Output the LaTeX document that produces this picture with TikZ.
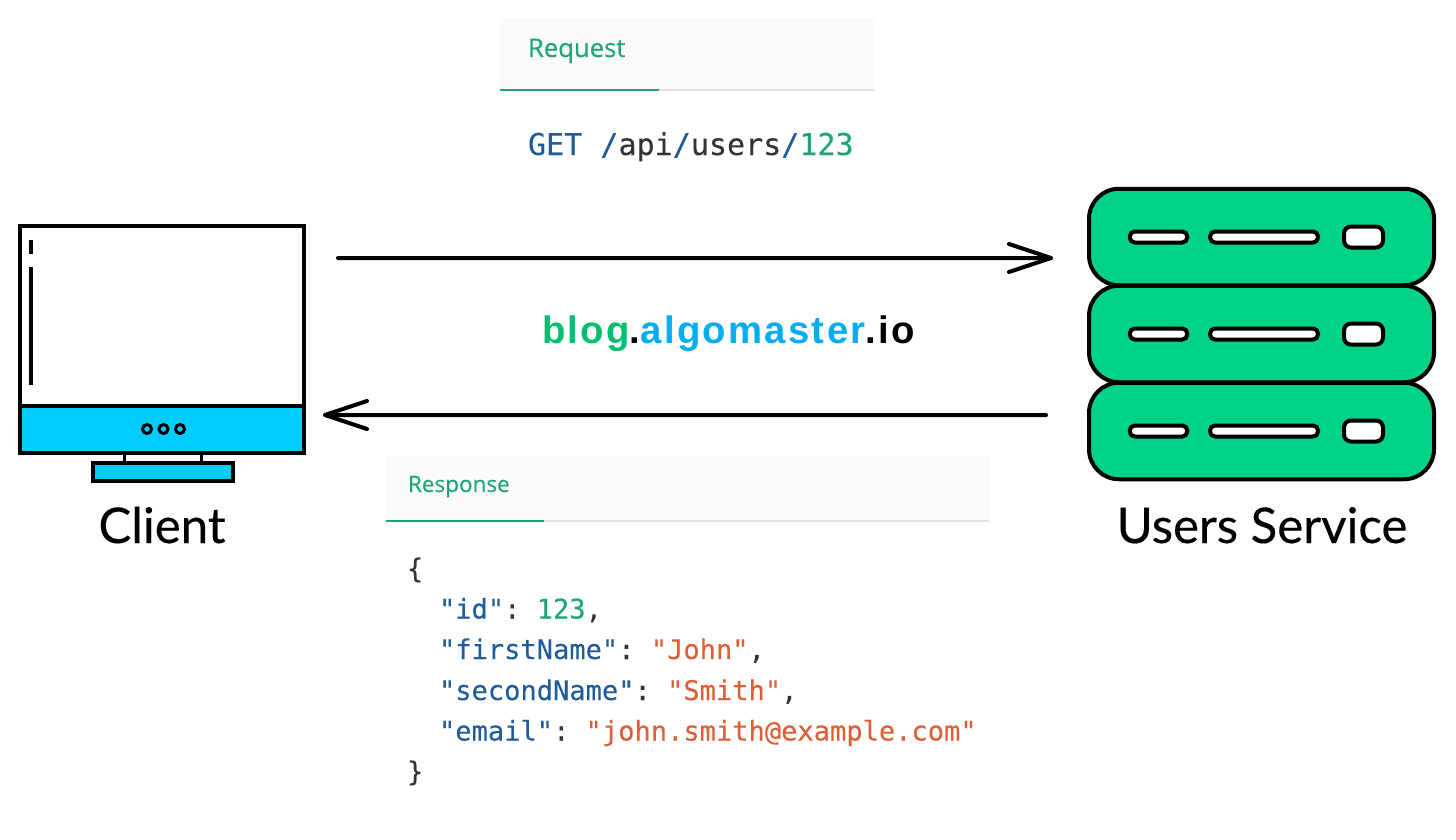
\documentclass[tikz,border=0pt]{standalone}
\usepackage{fontspec}
\setmainfont{Lato}
\newfontfamily\capfont[FakeBold=0.3]{Lato}
\newfontfamily\codefont[FakeBold=0.15]{DejaVu Sans Mono}
\newfontfamily\tabfont[FakeBold=0.2]{Open Sans}
\newfontfamily\brandfont[LetterSpace=6]{Liberation Sans}
\definecolor{clientblue}{HTML}{00CCFF}
\definecolor{rackgreen}{HTML}{00D287}
\definecolor{tabgreen}{HTML}{1FA37C}
\definecolor{tabgray}{HTML}{E2E2E2}
\definecolor{tabfill}{HTML}{FAFAFA}
\definecolor{keyblue}{HTML}{1F5C99}
\definecolor{strorange}{HTML}{DD5F35}
\definecolor{codegray}{HTML}{333333}
\definecolor{brandgreen}{HTML}{00C070}
\definecolor{brandblue}{HTML}{00AEEF}
\newcommand{\ckey}[1]{\textcolor{keyblue}{#1}}
\newcommand{\cstr}[1]{\textcolor{strorange}{#1}}
\newcommand{\cnum}[1]{\textcolor{tabgreen}{#1}}
\tikzset{
	every node/.style={outer sep=0},
	outline/.style={draw=black, line width=0.04cm, inner sep=0},
	tabpanel/.style={fill=tabfill, inner sep=0, anchor=north west},
	tablabel/.style={anchor=base west, inner sep=0, text=tabgreen},
	codeline/.style={anchor=base west, inner sep=0, text=codegray, font=\codefont\frenchspacing\fontsize{7.7}{9}\selectfont},
	caption/.style={anchor=base, inner sep=0, font=\capfont\fontsize{14}{16}\selectfont},
	slot/.style={outline, fill=white, rounded corners=0.05cm, minimum height=0.11cm},
	flowarrow/.style={line width=0.04cm, line cap=round, line join=round},
}
\begin{document}
\begin{tikzpicture}
	%%%%% START %%%%%
	\useasboundingbox (0, 0) rectangle (14.56, 8.39);

	\node[tabpanel, minimum width=3.75cm, minimum height=0.72cm] (reqpanel) at (5.00, 8.21) {};
	\draw[tabgray, line width=0.02cm] (reqpanel.south west) -- (reqpanel.south east);
	\draw[tabgreen, line width=0.025cm] (reqpanel.south west) -- ++(1.59, 0);
	\node[tablabel, font=\tabfont\fontsize{7.3}{9}\selectfont] (reqlabel) at (5.28, 7.82) {Request};
	\node[codeline, font=\codefont\fontsize{8.55}{10}\selectfont] (reqline) at (5.28, 6.84) {\ckey{GET /}api\ckey{/}users\ckey{/}\cnum{123}};

	% monitor
	\node[outline, line width=0.03cm, fill=white, minimum width=0.77cm, minimum height=0.17cm, anchor=north] (neck) at (1.625, 3.93) {};
	\node[outline, fill=white, minimum width=2.84cm, minimum height=1.80cm, anchor=north west] (screen) at (0.195, 6.13) {};
	\node[outline, fill=clientblue, minimum width=2.84cm, minimum height=0.47cm, anchor=north] (bezel) at (screen.south) {};
	\draw[line width=0.035cm] (0.31, 5.99) -- (0.31, 5.85);
	\draw[line width=0.035cm] (0.31, 5.72) -- (0.31, 4.54);
	\foreach \dotx/\dotname in {1.47/a, 1.635/b, 1.80/c}
		\node[outline, fill=clientblue, line width=0.03cm, circle, minimum size=0.09cm] (dot\dotname) at (\dotx, 4.10) {};
	\node[outline, fill=clientblue, minimum width=1.40cm, minimum height=0.18cm, anchor=north] (base) at (1.63, 3.76) {};
	\node[caption] (client) at (1.62, 2.96) {Client};

	% server
	\foreach \racky/\rackname in {6.02/one, 5.05/two, 4.08/three} {
		\node[outline, fill=rackgreen, rounded corners=0.30cm, minimum width=3.45cm, minimum height=0.965cm] (rack\rackname) at (12.615, \racky) {};
		\node[slot, minimum width=0.575cm] (short\rackname) at (11.585, \racky) {};
		\node[slot, minimum width=1.08cm] (long\rackname) at (12.64, \racky) {};
		\node[outline, fill=white, rounded corners=0.07cm, minimum width=0.39cm, minimum height=0.21cm] (led\rackname) at (13.635, \racky) {};
	}
	\node[caption] (users) at (12.62, 2.96) {Users Service};

	% arrows
	\coordinate (reqfrom) at ([shift={(0.345, -0.32)}]screen.north east);
	\coordinate (reqto) at ([shift={(-0.38, -0.21)}]rackone.west);
	\coordinate (resfrom) at ([shift={(-0.43, 0.16)}]rackthree.west);
	\coordinate (resto) at ([shift={(0.215, -0.09)}]screen.south east);
	\draw[flowarrow] (reqfrom) -- (reqto);
	\draw[flowarrow] ([shift={(-0.42, 0.14)}]reqto) -- (reqto) -- ([shift={(-0.42, -0.14)}]reqto);
	\draw[flowarrow] (resfrom) -- (resto);
	\draw[flowarrow] ([shift={(0.42, 0.14)}]resto) -- (resto) -- ([shift={(0.42, -0.14)}]resto);

	\node[anchor=base, inner sep=0, font=\brandfont\bfseries\fontsize{10.9}{12}\selectfont] (brand) at (7.285, 4.96) {\textcolor{brandgreen}{blog}.\textcolor{brandblue}{algomaster}.io};

	\node[tabpanel, minimum width=6.03cm, minimum height=0.65cm] (respanel) at (3.86, 3.83) {};
	\draw[tabgray, line width=0.02cm] (respanel.south west) -- (respanel.south east);
	\draw[tabgreen, line width=0.025cm] (respanel.south west) -- ++(1.58, 0);
	\node[tablabel, font=\tabfont\fontsize{6.4}{8}\selectfont] (reslabel) at (4.08, 3.47) {Response};

	\node[codeline] (open) at (4.07, 2.61) {\{};
	\node[codeline] (idline) at (4.39, 2.205) {\ckey{"id"}: \cnum{123},};
	\node[codeline] (firstline) at (4.39, 1.80) {\ckey{"firstName"}: \cstr{"John"},};
	\node[codeline] (secondline) at (4.39, 1.39) {\ckey{"secondName"}: \cstr{"Smith"},};
	\node[codeline] (mailline) at (4.39, 0.985) {\ckey{"email"}: \cstr{"john.smith@example.com"}};
	\node[codeline] (close) at (4.07, 0.58) {\}};
	%%%%% END %%%%%
\end{tikzpicture}
\end{document}
